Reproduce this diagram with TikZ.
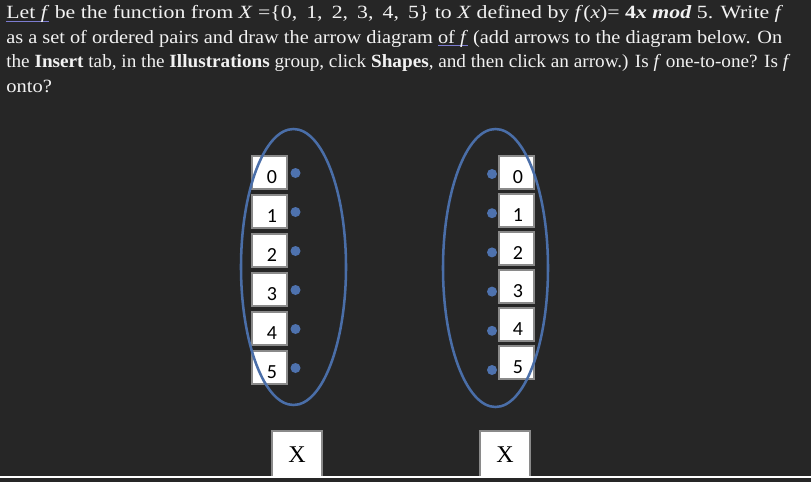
\documentclass[tikz,border=0pt]{standalone}
\usepackage{fontspec}
\usepackage{graphicx}
\setmainfont{Liberation Serif}
\newfontfamily\calib{Carlito}
\usetikzlibrary{shapes.geometric}
\definecolor{bgc}{HTML}{262626}
\definecolor{ringc}{HTML}{4A6EA8}
\definecolor{dotc}{HTML}{4E72AE}
\definecolor{boxline}{HTML}{8A8A8A}
\definecolor{txtc}{HTML}{F2F2F2}
\definecolor{ulc}{HTML}{7C7CD0}
\newcommand\spellul[1]{\setbox0\hbox{#1}\rlap{\textcolor{ulc}{\rule[-2.6pt]{\wd0}{1pt}}}\box0}
\newcommand\fitline[2]{\resizebox{#1}{\height}{#2}}
\tikzset{
  textline/.style={anchor=base west, inner sep=0pt, text=txtc, font=\fontsize{14}{16}\selectfont},
  numbox/.style={draw=boxline, line width=1.1pt, fill=white, minimum width=26.25pt, minimum height=24.75pt, inner sep=0pt},
  digit/.style={inner sep=0pt, font=\calib\fontsize{15}{16}\selectfont, text=black},
  bluedot/.style={circle, fill=dotc, minimum size=7.5pt, inner sep=0pt},
  setring/.style={draw=ringc, line width=1.9pt, ellipse, inner sep=0pt},
  xbox/.style={draw=boxline, line width=1pt, fill=white, minimum width=37.5pt, minimum height=34.5pt, inner sep=0pt},
  xlabel/.style={anchor=base, inner sep=0pt, font=\fontsize{18}{20}\selectfont, text=black}
}
\begin{document}
\begin{tikzpicture}[x=0.75pt,y=-0.75pt]
\fill[bgc] (0,0) rectangle (811,482);
\useasboundingbox (0,0) rectangle (811,482);
% question text
\node[textline] (l1) at (6,18.5) {\fitline{582.75pt}{\spellul{Let \textit{f}}\ be the function from \textit{X} =\{0,\, 1,\, 2,\, 3,\, 4,\, 5\} to \textit{X} defined by \textit{f}(\textit{x})= \textbf{4\textit{x mod}} 5. Write \textit{f}}};
\node[textline] (l2) at (6,43) {\fitline{582pt}{as a set of ordered pairs and draw the arrow diagram \spellul{of \textit{f}}\ (add arrows to the diagram below. On}};
\node[textline] (l3) at (6,67.5) {\fitline{588pt}{the \textbf{Insert} tab, in the \textbf{Illustrations} group, click \textbf{Shapes}, and then click an arrow.) Is \textit{f} one-to-one? Is \textit{f}}};
\node[textline] (l4) at (6,92) {\scalebox{1.1}[1]{onto?}};
% left column boxes
\foreach \i in {0,...,5} {
  \node[numbox] (a\i) at (269.5,{172.5+39*\i}) {};
  \node[digit] (at\i) at ([shift={(2.5,4.5)}]a\i.center) {\i};
}
% right column boxes
\foreach \i in {0,...,5} {
  \node[numbox] (b\i) at (516.5,{172.5+38*\i}) {};
  \node[digit] (bt\i) at ([shift={(1.5,4.5)}]b\i.center) {\i};
}
% ellipses
\node[setring, minimum width=78.75pt, minimum height=207pt] (domain) at (293.5,267) {};
\node[setring, minimum width=78.75pt, minimum height=208.5pt] (codomain) at (495.5,268) {};
% dots
\foreach \i in {0,...,5} {
  \node[bluedot] (p\i) at (295.5,{173+39*\i}) {};
  \node[bluedot] (q\i) at (492,{174+39.2*\i}) {};
}
% X labels
\node[xbox] (xl) at (297,454) {};
\node[xlabel] (xlt) at (297,462) {X};
\node[xbox] (xr) at (505,454) {};
\node[xlabel] (xrt) at (505,462) {X};
% bottom rule
\coordinate (r0) at (0,477);
\coordinate (r1) at (811,477);
\draw[white, line width=1.3pt] (r0) -- (r1);
\end{tikzpicture}
\end{document}
